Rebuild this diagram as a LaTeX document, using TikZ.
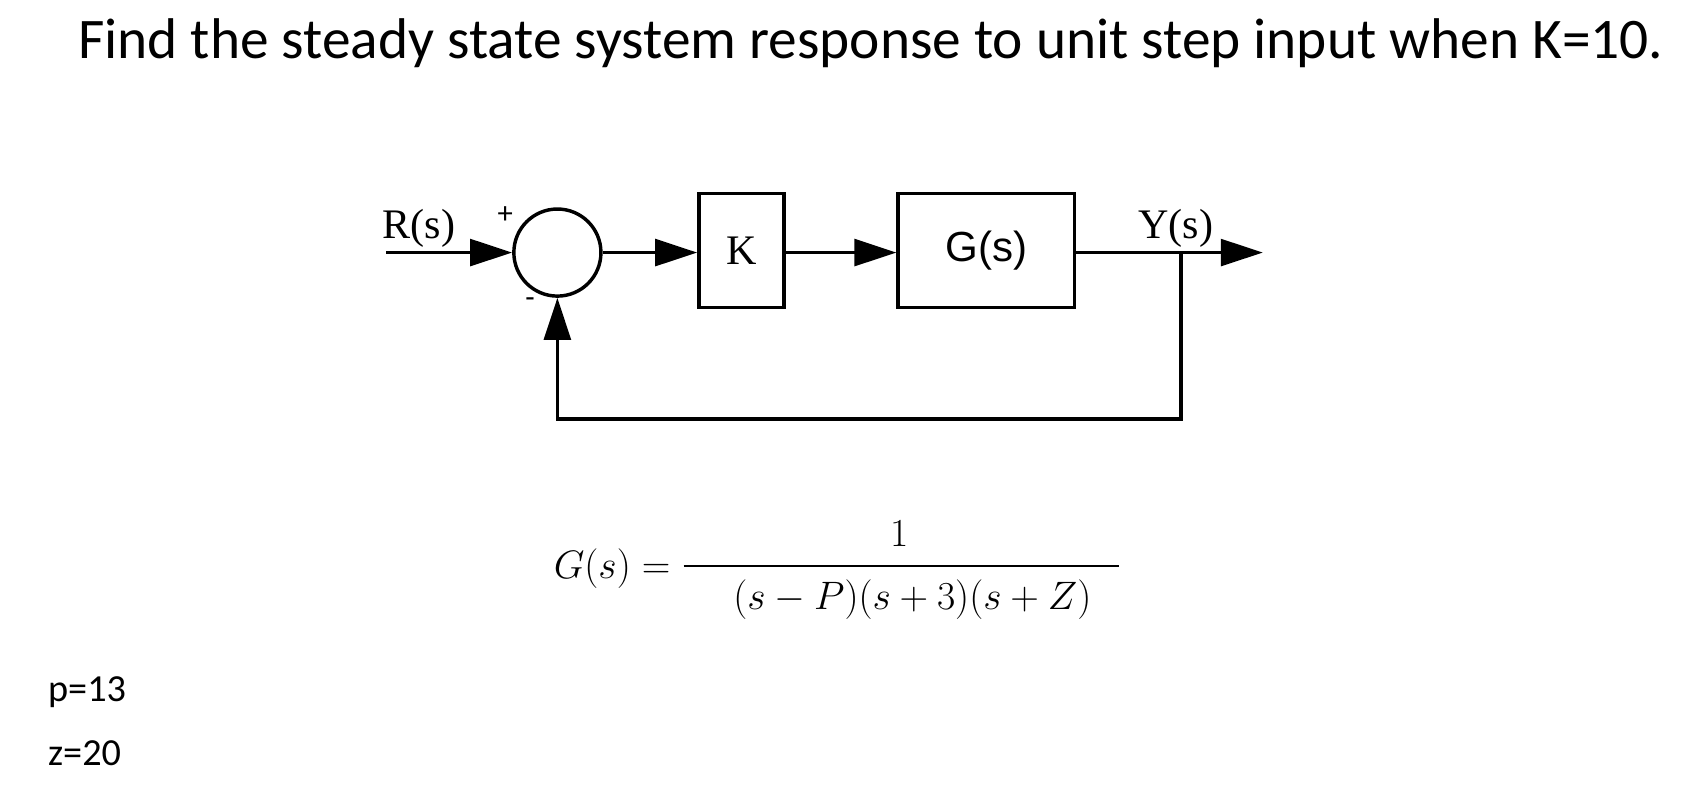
\documentclass[tikz,border=0pt]{standalone}
\usepackage{fontspec}
\setmainfont{Carlito}
\newfontfamily\serifm{Liberation Serif}
\newfontfamily\sansm{Liberation Sans}
\usetikzlibrary{arrows.meta}
\begin{document}
\begin{tikzpicture}[x=0.02cm,y=-0.02cm,
  blk/.style={draw,line width=1.8pt,inner sep=0pt},
  ln/.style={line width=1.8pt},
  arr/.style={ln,-{Triangle[length=22pt*0.5,width=14pt*0.5,scale=2]}},
  lab/.style={font=\serifm\fontsize{22}{22}\selectfont}]
\useasboundingbox (0,0) rectangle (1568,730);
\node (title) at (800,40) {\fontsize{30}{32}\selectfont Find the steady state system response to unit step input when K=10.};
\coordinate (in) at (355,232);
\node[draw,circle,ln,minimum size=80*0.02cm,inner sep=0pt] (sum) at (512,232) {};
\node[blk,minimum width=78*0.02cm,minimum height=105*0.02cm,lab] (K) at (681,230) {K};
\node[blk,minimum width=162*0.02cm,minimum height=105*0.02cm,font=\sansm\fontsize{22}{22}\selectfont] (G) at (906,230) {G(s)};
\coordinate (br) at (1085,232);
\coordinate (out) at (1160,232);
\coordinate (c1) at (1085,385);
\coordinate (c2) at (512,385);
\draw[arr] (in) -- (sum.west);
\draw[arr] (sum.east) -- (K.west|-sum.east);
\draw[arr] (K.east|-sum.east) -- (G.west|-sum.east);
\draw[arr] (G.east|-sum.east) -- (out);
\draw[arr] (br) -- (c1) -- (c2) -- (sum.south);
\node[lab] (R) at (385,210) {R(s)};
\node[lab] (Y) at (1080,210) {Y(s)};
\node[font=\fontsize{16}{16}\selectfont] (plus) at (464,198) {+};
\node[font=\fontsize{16}{16}\selectfont] (minus) at (487,278) {-};
\node[anchor=east,font=\fontsize{22}{22}\selectfont] (gs) at (622,522) {$G(s)=$};
\draw[line width=1pt] (628,520) -- (1028,520);
\node[font=\fontsize{21}{21}\selectfont] (num) at (826,490) {$1$};
\node[font=\fontsize{21}{21}\selectfont] (den) at (838,551) {$(s-P)(s+3)(s+Z)$};
\node[anchor=west,font=\fontsize{20}{20}\selectfont] (p) at (38,636) {p=13};
\node[anchor=west,font=\fontsize{20}{20}\selectfont] (z) at (38,692) {z=20};
\end{tikzpicture}
\end{document}
